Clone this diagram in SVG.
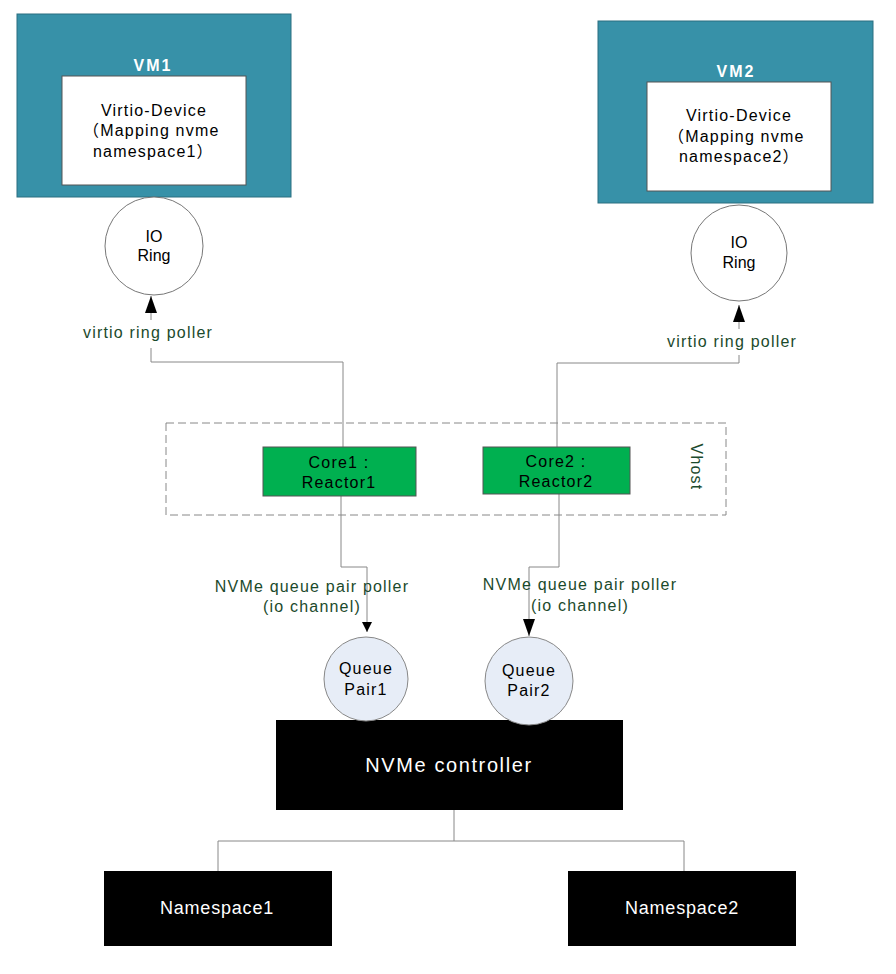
<svg xmlns="http://www.w3.org/2000/svg" width="896" height="974" viewBox="0 0 896 974">
<defs>
<style>
.t{font-family:"Liberation Sans",Arial,"Noto Sans CJK SC",sans-serif;font-size:16px;letter-spacing:1.2px;fill:#000}
.c{text-anchor:middle}
.g{fill:#1b4a2c}
.w{fill:#fff}
.vm{fill:#3791a8;stroke:#2b6f80;stroke-width:1}
.inner{fill:#fff;stroke:#555;stroke-width:1}
.ring{fill:#fff;stroke:#777;stroke-width:1}
.core{fill:#00b050;stroke:#555;stroke-width:1}
.qp{fill:#e7edf7;stroke:#888;stroke-width:1}
.blk{fill:#000}
.ln{fill:none;stroke:#888;stroke-width:1}
</style>
<marker id="ah" viewBox="0 0 10 10" refX="10" refY="5" markerWidth="10" markerHeight="10" markerUnits="userSpaceOnUse" orient="auto">
<path d="M0,0 L10,5 L0,10 Z" fill="#000"/>
</marker>
<marker id="ahL" viewBox="0 0 10 10" refX="10" refY="5" markerWidth="17" markerHeight="12" markerUnits="userSpaceOnUse" orient="auto" preserveAspectRatio="none">
<path d="M0,0 L10,5 L0,10 Z" fill="#000"/>
</marker>
</defs>
<rect width="896" height="974" fill="#fff"/>

<g id="vhost">
<rect x="166" y="423" width="560" height="92" fill="none" stroke="#888" stroke-width="1" stroke-dasharray="8 4"/>
<text class="t g" transform="translate(691,467) rotate(90)" text-anchor="middle">Vhost</text>
</g>

<g id="connectors">
<path class="ln" d="M343,447 V362 H151 V348 M151,320 V296" marker-end="url(#ahL)"/>
<path class="ln" d="M557,447 V363 H739 V355 M739,329 V305" marker-end="url(#ahL)"/>
<path class="ln" d="M341,496 V567 H367 V632" marker-end="url(#ah)"/>
<path class="ln" d="M559,494 V567 H529 V636" marker-end="url(#ahL)"/>
<path class="ln" d="M454,810 V841 M218,871 V841 H684 V871"/>
<rect x="80" y="322" width="138" height="24" fill="#fff"/>
<rect x="664" y="331" width="138" height="22" fill="#fff"/>
<text class="t g c" x="148" y="338">virtio ring poller</text>
<text class="t g c" x="732" y="347">virtio ring poller</text>
<text class="t g c" x="312" y="592">NVMe queue pair poller</text>
<text class="t g c" x="312" y="612">(io channel)</text>
<text class="t g c" x="580" y="590">NVMe queue pair poller</text>
<text class="t g c" x="580" y="611">(io channel)</text>
</g>

<g id="vm1">
<rect class="vm" x="17" y="14" width="274" height="183"/>
<text class="t w c" x="153" y="71" style="font-weight:bold;letter-spacing:2px">VM1</text>
<rect class="inner" x="62" y="76" width="184" height="109"/>
<text class="t" x="101" y="116">Virtio-Device</text>
<text class="t" x="83" y="136">（Mapping nvme</text>
<text class="t" x="93" y="157">namespace1）</text>
</g>

<g id="vm2">
<rect class="vm" x="598" y="21" width="275" height="182"/>
<text class="t w c" x="736" y="77" style="font-weight:bold;letter-spacing:2px">VM2</text>
<rect class="inner" x="647" y="82" width="184" height="109"/>
<text class="t" x="686" y="121">Virtio-Device</text>
<text class="t" x="668" y="142">（Mapping nvme</text>
<text class="t" x="679" y="162">namespace2）</text>
</g>

<g id="ioring1">
<circle class="ring" cx="154" cy="246" r="49"/>
<text class="t c" x="154" y="242" style="letter-spacing:0">IO</text>
<text class="t c" x="154" y="261" style="letter-spacing:0">Ring</text>
</g>

<g id="ioring2">
<circle class="ring" cx="739" cy="253" r="48"/>
<text class="t c" x="739" y="248" style="letter-spacing:0">IO</text>
<text class="t c" x="739" y="268" style="letter-spacing:0">Ring</text>
</g>

<g id="core1">
<rect class="core" x="263" y="447" width="153" height="49"/>
<text class="t c" x="339" y="468">Core1 :</text>
<text class="t c" x="339" y="488">Reactor1</text>
</g>

<g id="core2">
<rect class="core" x="483" y="447" width="147" height="47"/>
<text class="t c" x="556" y="467">Core2 :</text>
<text class="t c" x="556" y="487">Reactor2</text>
</g>

<g id="controller">
<rect class="blk" x="276" y="720" width="347" height="90"/>
<text class="t w c" x="449" y="772" style="font-size:20px;letter-spacing:1.6px">NVMe controller</text>
</g>

<g id="qp1">
<circle class="qp" cx="366" cy="679" r="42"/>
<text class="t c" x="366" y="674">Queue</text>
<text class="t c" x="366" y="695">Pair1</text>
</g>

<g id="qp2">
<circle class="qp" cx="529" cy="681" r="44"/>
<text class="t c" x="529" y="676">Queue</text>
<text class="t c" x="529" y="696">Pair2</text>
</g>

<g id="namespace1">
<rect class="blk" x="104" y="871" width="228" height="75"/>
<text class="t w c" x="217" y="914" style="font-size:18px;letter-spacing:0.8px">Namespace1</text>
</g>

<g id="namespace2">
<rect class="blk" x="568" y="871" width="228" height="75"/>
<text class="t w c" x="682" y="914" style="font-size:18px;letter-spacing:0.8px">Namespace2</text>
</g>
</svg>
